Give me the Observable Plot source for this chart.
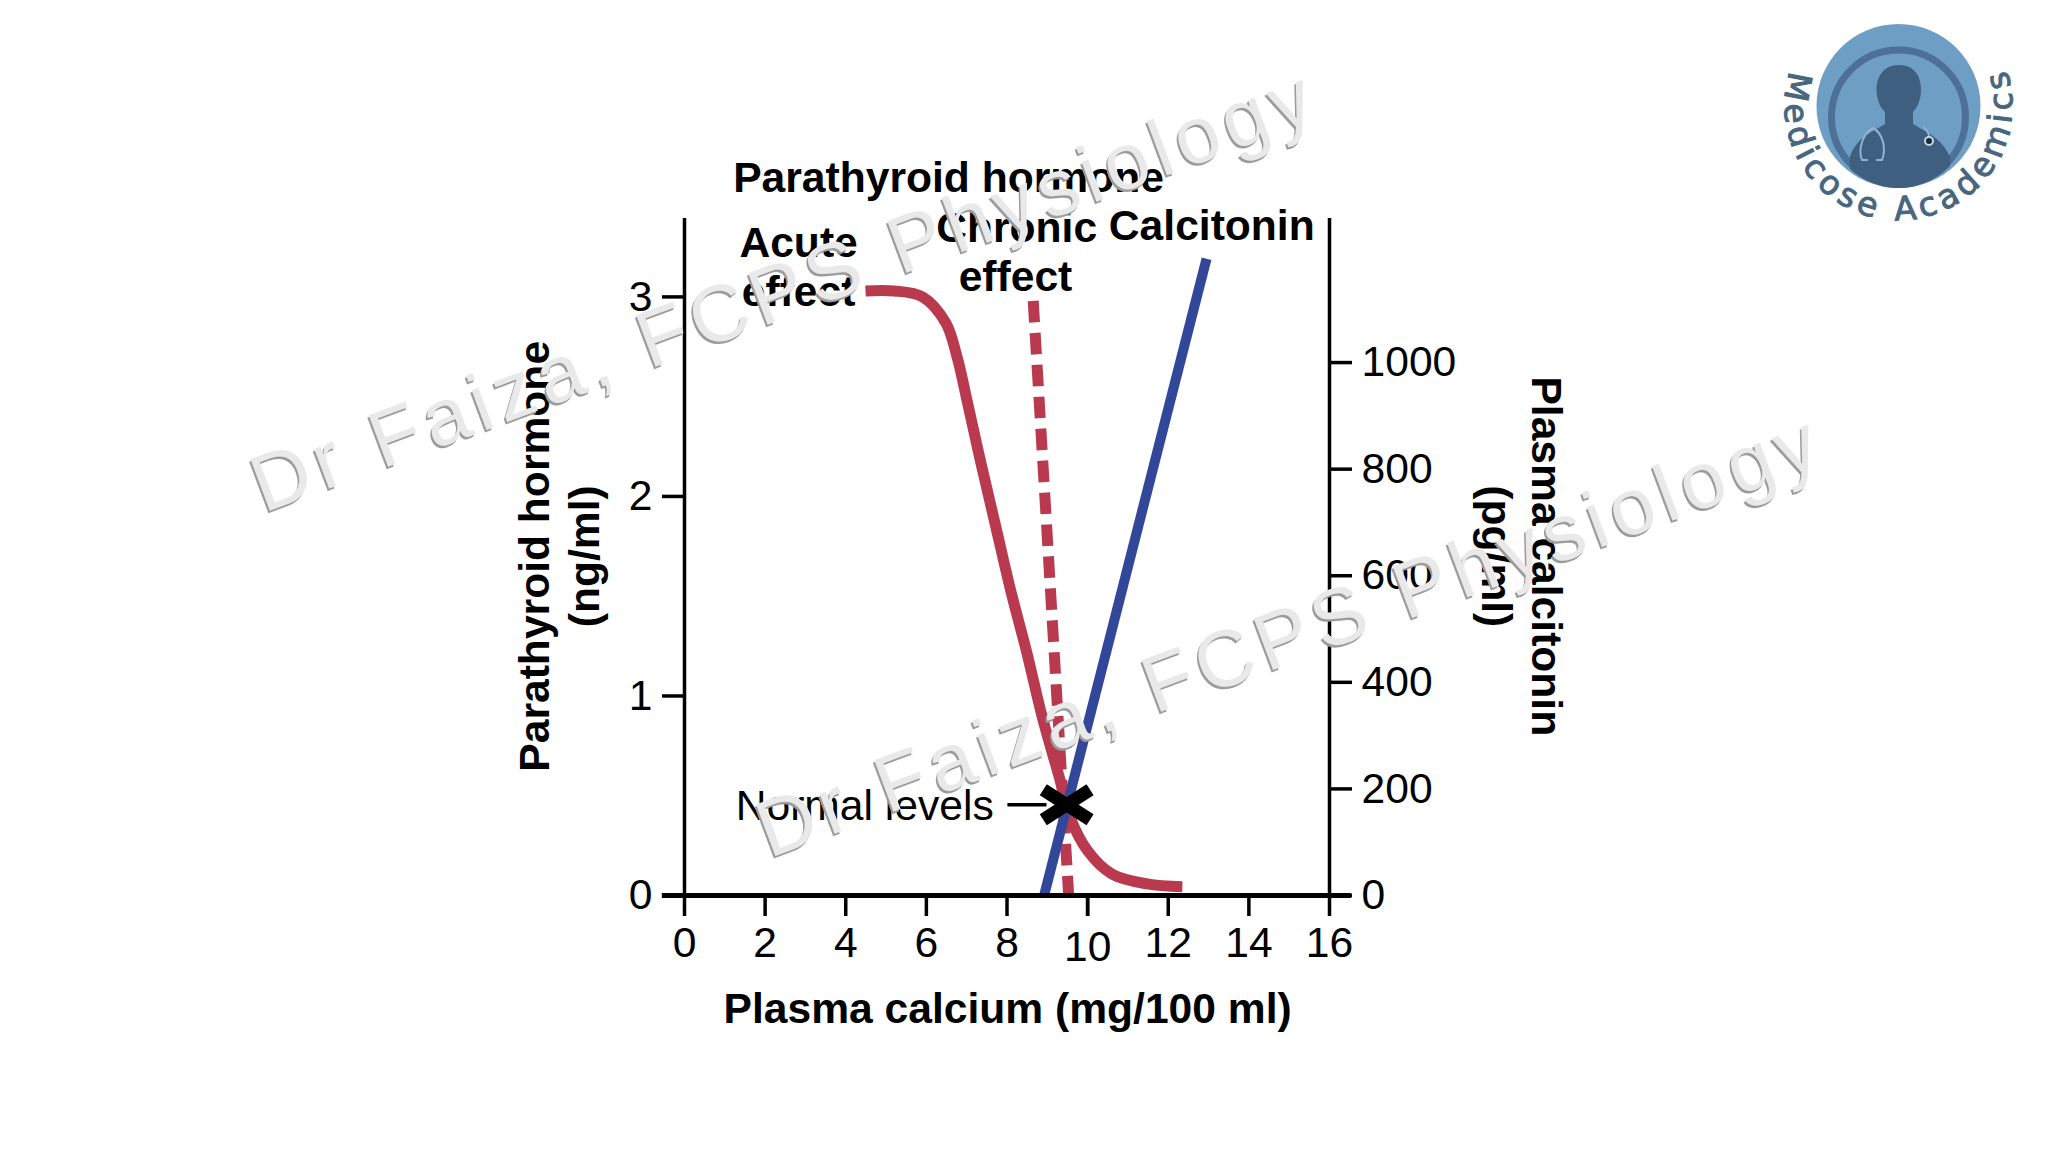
<!DOCTYPE html>
<html>
<head>
<meta charset="utf-8">
<script src="https://cdn.jsdelivr.net/npm/d3@7"></script>
<script src="https://cdn.jsdelivr.net/npm/@observablehq/plot@0.6"></script>
<style>
html,body{margin:0;padding:0;background:#fff;overflow:hidden}
#wrap{position:relative;width:2048px;height:1152px}
#logo{position:absolute;left:0;top:0}
</style>
</head>
<body>
<div id="wrap"></div>
<script>
// Values
const xTicks = [0,2,4,6,8,10,12,14,16];
const pthTicks = [0,1,2,3];
const calcitoninTicks = [0,200,400,600,800,1000];
const pgPerAxisUnit = 374.4; // right axis: pg/ml per 1 ng/ml of the left axis

const acuteCa  = [4.49,5.2,5.91,6.48,6.76,7.01,7.35,7.72,8.09,8.50,8.88,9.3,9.57,10.0,10.6,11.48,12.35];
const acutePth = [3.03,3.03,3.0,2.87,2.70,2.48,2.17,1.85,1.53,1.21,0.89,0.59,0.39,0.224,0.108,0.058,0.044];
const chronicCa  = [8.65,9.53];
const chronicPth = [2.98,0];
const calcitoninCa = [8.92,12.95];
const calcitoninPg = [0,1195];

const normalCa = 9.48, normalPth = 0.455;
const yMax = 3.393;

const boldLabels = [
  {t:"Parathyroid hormone", x:6.55, y:3.594},
  {t:"Chronic", x:8.24, y:3.345},
  {t:"Calcitonin", x:13.08, y:3.353},
  {t:"effect", x:8.21, y:3.100},
  {t:"Acute", x:2.83, y:3.268},
  {t:"effect", x:2.83, y:3.022},
  {t:"Plasma calcium (mg/100 ml)", x:8.015, y:-0.569}
];
const plainLabels = [{t:"Normal levels", x:4.47, y:0.447}];
const sideLabels = [
  {t:"Parathyroid hormone", x:-3.70, y:1.70, r:-90},
  {t:"(ng/ml)", x:-2.46, y:1.70, r:-90},
  {t:"Plasma calcitonin", x:21.36, y:1.70, r:90},
  {t:"(pg/ml)", x:20.12, y:1.70, r:90}
];
const wmText = "Dr Faiza, FCPS Physiology";
const watermarks = [{x:2.49,y:3.03},{x:15.03,y:1.30}];

const zip = (xs,ys)=>xs.map((x,i)=>({x,y:ys[i]}));
const RED="#b93a4f", BLUE="#33479a";
const fs=42.6;

const chart = Plot.plot({
  width:2048, height:1152,
  marginLeft:684, marginRight:719, marginTop:218, marginBottom:257,
  style:{background:"white",color:"black",fontFamily:"'Liberation Sans',Arial,sans-serif"},
  x:{domain:[0,16]}, y:{domain:[0,yMax]},
  marks:[
    Plot.line(zip(chronicCa,chronicPth),{x:"x",y:"y",stroke:RED,strokeWidth:11,strokeDasharray:"21.5 10.5",strokeLinecap:"butt"}),
    Plot.line(zip(acuteCa,acutePth),{x:"x",y:"y",stroke:RED,strokeWidth:11,curve:"catmull-rom",strokeLinecap:"butt"}),
    Plot.line(zip(calcitoninCa,calcitoninPg.map(v=>v/pgPerAxisUnit)),{x:"x",y:"y",stroke:BLUE,strokeWidth:10,strokeLinecap:"butt"}),
    // axes
    Plot.ruleX([0,16],{y1:0,y2:yMax,stroke:"black",strokeWidth:3.5}),
    Plot.ruleY([0],{x1:-0.55,x2:16.55,stroke:"black",strokeWidth:5}),
    Plot.axisY({ticks:pthTicks,tickSize:22,tickPadding:10,strokeWidth:3.5,fontSize:fs,label:null,tickFormat:d=>String(d)}),
    Plot.axisY({anchor:"right",ticks:calcitoninTicks.map(v=>v/pgPerAxisUnit),tickSize:22,tickPadding:10,strokeWidth:3.5,fontSize:fs,label:null,tickFormat:d=>String(Math.round(d*pgPerAxisUnit))}),
    Plot.axisX({ticks:xTicks,tickSize:21,tickPadding:10,strokeWidth:3.5,fontSize:fs,label:null,tickFormat:d=>d===10?"":String(d)}),
    Plot.axisX({ticks:[10],tickSize:21,tickPadding:14,strokeWidth:3.5,fontSize:fs,label:null,tickFormat:d=>String(d)}),
    // normal marker
    Plot.link([{a:8.01,b:8.98}],{x1:"a",x2:"b",y1:normalPth,y2:normalPth,stroke:"black",strokeWidth:3.5}),
    Plot.link([{a:normalCa-0.58,b:normalCa+0.58,c:normalPth-0.075,d:normalPth+0.075},{a:normalCa-0.58,b:normalCa+0.58,c:normalPth+0.075,d:normalPth-0.075}],
      {x1:"a",x2:"b",y1:"c",y2:"d",stroke:"black",strokeWidth:13}),
    // labels
    Plot.text(boldLabels,{x:"x",y:"y",text:"t",fontSize:fs,fontWeight:"bold",fill:"black"}),
    Plot.text(plainLabels,{x:"x",y:"y",text:"t",fontSize:fs,fill:"black"}),
    ...sideLabels.map(d=>Plot.text([d],{x:"x",y:"y",text:"t",rotate:d.r,fontSize:fs,fontWeight:"bold",fill:"black"})),
    // watermark
    Plot.text(watermarks,{x:"x",y:"y",text:()=>wmText,rotate:-20.5,fontSize:80,fill:"#9c9c9c",dx:-1.5,dy:2.5}),
    Plot.text(watermarks,{x:"x",y:"y",text:()=>wmText,rotate:-20.5,fontSize:80,fill:"#e9e9e9"})
  ]
});
chart.querySelectorAll("text").forEach(t=>{ if(t.textContent===wmText) t.setAttribute("letter-spacing","6.5"); });
document.getElementById("wrap").appendChild(chart);

// Channel logo
const logo = `<svg id="logo" xmlns="http://www.w3.org/2000/svg" width="2048" height="1152" viewBox="0 0 2048 1152">
<defs>
<clipPath id="c"><circle cx="1898.5" cy="117" r="71"/></clipPath>
<path id="arc" d="M 1790 71 A 114 114 0 1 0 2004 63"/>
</defs>
<circle cx="1898.5" cy="106" r="82" fill="#6f9ec4"/>
<circle cx="1898.5" cy="117" r="67" fill="#6f9ec4" stroke="#4d7196" stroke-width="7"/>
<g clip-path="url(#c)">
<path d="M1850 157 C1856 138 1872 132 1885 124 L1885 112 C1872 100 1872 65 1899 65 C1926 65 1925 100 1913 112 L1913 124 C1926 132 1942 138 1950 157 L1950 200 L1850 200 Z" fill="#3f5f80"/>
<path d="M1873 128 C1862 134 1858 150 1862 160 L1868 160 M1873 128 C1884 134 1886 150 1882 160 L1876 160" fill="none" stroke="#8fb4d0" stroke-width="2"/>
<path d="M1923 127 C1927 130 1929 134 1929 137" fill="none" stroke="#8fb4d0" stroke-width="2"/>
<circle cx="1929" cy="141" r="4" fill="#16283a" stroke="#c5d8e6" stroke-width="2"/>
</g>
<text font-family="'DejaVu Sans'" font-size="33" fill="#48677f" stroke="#48677f" stroke-width="1"><textPath href="#arc" startOffset="0" textLength="430" lengthAdjust="spacing">Medicose Academics</textPath></text>
</svg>`;
document.getElementById("wrap").insertAdjacentHTML("beforeend",logo);
</script>
</body>
</html>
